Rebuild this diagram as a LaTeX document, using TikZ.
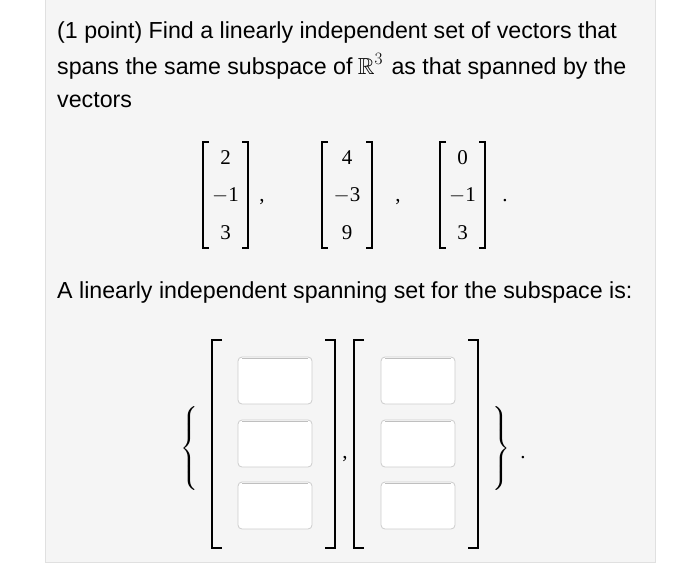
\documentclass[tikz,border=0pt]{standalone}
\usepackage{amssymb}
\usepackage{fontspec}
\setmainfont{Liberation Sans}
\newfontfamily\serifnum{Liberation Serif}
\begin{document}
\begin{tikzpicture}[x=1pt,y=-1pt,
  txt/.style={anchor=base west,inner sep=0,font=\fontsize{23.2}{26}\selectfont},
  ent/.style={inner sep=0,anchor=base,font=\serifnum\fontsize{21}{24}\selectfont},
  brk/.style={line width=1.3pt},
  brk2/.style={line width=2pt},
  ibox/.style={draw=black!20,fill=white,rounded corners=4pt,line width=0.8pt}]
\useasboundingbox (0,0) rectangle (700,566);
\fill[white] (0,0) rectangle (700,566);
\filldraw[fill=black!4,draw=black!12] (45,-2) rectangle (655,562);
\node[txt] (l1) at (57,38) {(1 point) Find a linearly independent set of vectors that};
\node[txt] (l2) at (57,74) {spans the same subspace of};
\node[txt,anchor=base west] (R) at ([xshift=5pt]l2.base east) {$\mathbb{R}^{\scriptstyle 3}$};
\node[txt,anchor=base west] (l2b) at ([xshift=8pt]R.base east) {as that spanned by the};
\node[txt] (l3) at (57,107) {vectors};
% given vectors
\foreach \n/\xl/\xr/\a/\b/\c in {v1/203/248/2/$-$1/3, v2/322/372/4/$-$3/9, v3/440/485/0/$-$1/3}{
  \draw[brk] (\xl+6,142) -- (\xl,142) -- (\xl,248) -- (\xl+6,248);
  \draw[brk] (\xr-6,142) -- (\xr,142) -- (\xr,248) -- (\xr-6,248);
  \node[ent] (\n a) at ({(\xl+\xr)/2},164) {\a};
  \node[ent] (\n b) at ({(\xl+\xr)/2},201) {\b};
  \node[ent] (\n c) at ({(\xl+\xr)/2},239) {\c};
}
\node[ent] (c1) at (262,201) {,};
\node[ent] (c2) at (398,201) {,};
\node[ent] (d1) at (505,201) {.};
\node[txt] (l4) at (57,298) {A linearly independent spanning set for the subspace is:};
% answer
\node[inner sep=0,font=\fontsize{20}{20}\selectfont] (lb) at (190,448) {$\left\{\vcenter{\hbox{\rule{0pt}{84pt}}}\right.$};
\node[inner sep=0,font=\fontsize{20}{20}\selectfont] (rb) at (501,448) {$\left.\vcenter{\hbox{\rule{0pt}{84pt}}}\right\}$};
\node[ent] (cm) at (345,458) {,};
\node[ent] (dt) at (523,458) {.};
\foreach \xl/\xr/\bx in {212/335/238, 354/478/381}{
  \draw[brk2] (\xl+10,340) -- (\xl,340) -- (\xl,548) -- (\xl+10,548);
  \draw[brk2] (\xr-10,340) -- (\xr,340) -- (\xr,548) -- (\xr-10,548);
  \foreach \yt in {357,420,482}{
    \draw[ibox] (\bx,\yt) rectangle (\bx+74,\yt+47);
    \draw[black!25,line width=1pt] (\bx+4,\yt+1.2) -- (\bx+70,\yt+1.2);
  }
}
\end{tikzpicture}
\end{document}
